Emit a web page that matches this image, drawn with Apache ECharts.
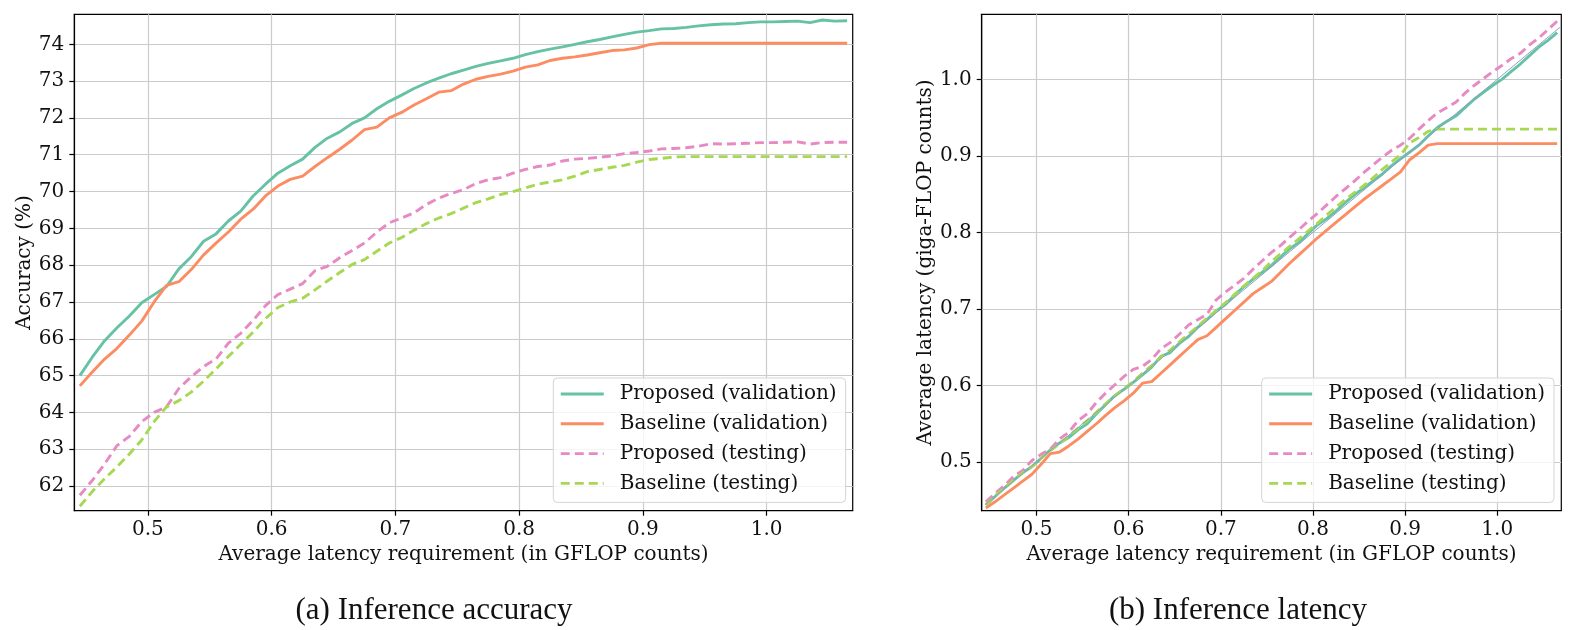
<!DOCTYPE html>
<html>
<head>
<meta charset="utf-8">
<script src="https://cdn.jsdelivr.net/npm/echarts@6/dist/echarts.min.js"></script>
<style>
html,body{margin:0;padding:0;background:#fff;}
#chart{width:1578px;height:630px;}
</style>
</head>
<body>
<div id="chart"></div>
<script>
// ---------------- DATA ----------------
const X = [0.445,0.455,0.465,0.475,0.485,0.495,0.505,0.515,0.525,0.535,0.545,0.555,0.565,0.575,0.585,0.595,0.605,0.615,0.625,0.635,0.645,0.655,0.665,0.675,0.685,0.695,0.705,0.715,0.725,0.735,0.745,0.755,0.765,0.775,0.785,0.795,0.805,0.815,0.825,0.835,0.845,0.855,0.865,0.875,0.885,0.895,0.905,0.915,0.925,0.935,0.945,0.955,0.965,0.975,0.985,0.995,1.005,1.015,1.025,1.035,1.045,1.055,1.065];

const accProposedVal = [65.0,65.5,65.95,66.3,66.62,66.98,67.2,67.42,67.9,68.23,68.65,68.85,69.2,69.47,69.88,70.2,70.5,70.7,70.88,71.2,71.45,71.62,71.85,72.0,72.25,72.45,72.62,72.8,72.95,73.08,73.2,73.3,73.4,73.48,73.55,73.62,73.72,73.8,73.87,73.93,74.0,74.07,74.13,74.2,74.27,74.33,74.37,74.42,74.43,74.46,74.5,74.53,74.55,74.56,74.59,74.61,74.61,74.62,74.63,74.59,74.66,74.63,74.64];
const accBaselineVal = [64.72,65.1,65.45,65.74,66.1,66.48,67.0,67.45,67.55,67.88,68.28,68.6,68.9,69.25,69.52,69.88,70.15,70.33,70.42,70.68,70.92,71.15,71.4,71.68,71.75,72.0,72.15,72.35,72.52,72.7,72.74,72.92,73.05,73.13,73.19,73.27,73.38,73.44,73.56,73.62,73.66,73.71,73.77,73.83,73.85,73.9,73.99,74.03,74.03,74.03,74.03,74.03,74.03,74.03,74.03,74.03,74.03,74.03,74.03,74.03,74.03,74.03,74.03];
const accProposedTest = [61.75,62.15,62.6,63.1,63.35,63.75,64.0,64.15,64.65,64.97,65.25,65.45,65.88,66.15,66.5,66.9,67.2,67.35,67.5,67.85,67.97,68.2,68.4,68.6,68.9,69.15,69.28,69.42,69.65,69.82,69.95,70.05,70.22,70.32,70.38,70.5,70.6,70.68,70.72,70.83,70.88,70.9,70.93,70.97,71.03,71.06,71.1,71.16,71.17,71.19,71.23,71.3,71.29,71.3,71.31,71.33,71.33,71.34,71.35,71.29,71.33,71.34,71.34];
const accBaselineTest = [61.45,61.85,62.2,62.52,62.87,63.25,63.75,64.15,64.32,64.55,64.85,65.18,65.52,65.85,66.18,66.55,66.85,67.0,67.1,67.33,67.57,67.8,68.02,68.15,68.38,68.6,68.75,68.95,69.13,69.28,69.4,69.55,69.7,69.8,69.92,70.0,70.1,70.2,70.26,70.32,70.42,70.54,70.6,70.66,70.71,70.8,70.87,70.9,70.94,70.95,70.95,70.95,70.95,70.95,70.95,70.95,70.95,70.95,70.95,70.95,70.95,70.95,70.95];

const latProposedVal = [0.444,0.455,0.466,0.476,0.486,0.494,0.505,0.516,0.525,0.532,0.542,0.55,0.563,0.575,0.587,0.595,0.604,0.614,0.624,0.638,0.643,0.655,0.664,0.676,0.686,0.697,0.706,0.718,0.729,0.739,0.748,0.757,0.768,0.779,0.787,0.799,0.81,0.818,0.828,0.839,0.849,0.858,0.867,0.876,0.887,0.896,0.905,0.914,0.926,0.937,0.945,0.952,0.963,0.974,0.983,0.992,1.0,1.01,1.02,1.031,1.042,1.051,1.061];
const latBaselineVal = [0.44,0.448,0.457,0.466,0.475,0.484,0.497,0.511,0.513,0.521,0.53,0.54,0.55,0.561,0.571,0.58,0.59,0.603,0.605,0.616,0.627,0.638,0.649,0.66,0.665,0.676,0.687,0.698,0.709,0.72,0.728,0.736,0.748,0.76,0.771,0.782,0.793,0.803,0.813,0.823,0.833,0.843,0.852,0.861,0.87,0.879,0.895,0.904,0.914,0.916,0.916,0.916,0.916,0.916,0.916,0.916,0.916,0.916,0.916,0.916,0.916,0.916,0.916];
const latProposedTest = [0.448,0.459,0.469,0.481,0.489,0.502,0.51,0.517,0.53,0.539,0.554,0.563,0.578,0.59,0.601,0.612,0.621,0.625,0.634,0.648,0.656,0.667,0.679,0.686,0.693,0.712,0.722,0.731,0.74,0.752,0.763,0.774,0.783,0.794,0.804,0.815,0.825,0.836,0.847,0.857,0.867,0.878,0.888,0.898,0.907,0.914,0.923,0.935,0.946,0.956,0.963,0.970,0.982,0.992,1.001,1.01,1.018,1.027,1.034,1.045,1.054,1.065,1.076];
const latBaselineTest = [0.444,0.456,0.466,0.476,0.486,0.494,0.505,0.515,0.524,0.534,0.544,0.554,0.565,0.576,0.586,0.596,0.605,0.616,0.626,0.637,0.646,0.657,0.667,0.677,0.688,0.698,0.708,0.719,0.73,0.74,0.75,0.762,0.772,0.782,0.792,0.802,0.812,0.823,0.833,0.843,0.852,0.861,0.871,0.882,0.892,0.901,0.917,0.924,0.932,0.935,0.935,0.935,0.935,0.935,0.935,0.935,0.935,0.935,0.935,0.935,0.935,0.935,0.935];

const diagonalX = [0.444, 1.068];

const seriesNames = ['Proposed (validation)','Baseline (validation)','Proposed (testing)','Baseline (testing)'];
const xTicks = [0.5,0.6,0.7,0.8,0.9,1.0];
const accTicks = [62,63,64,65,66,67,68,69,70,71,72,73,74];
const latTicks = [0.5,0.6,0.7,0.8,0.9,1.0];
const xName = 'Average latency requirement (in GFLOP counts)';
const accName = 'Accuracy (%)';
const latName = 'Average latency (giga-FLOP counts)';
const captions = ['(a) Inference accuracy','(b) Inference latency'];

// ---------------- STYLE ----------------
const COLORS = ['#66c2a5','#fc8d62','#e78ac3','#a6d854'];
const DIAG_COLOR = '#8da0cb';
const FONT = 'DejaVu Serif';
const FS = 20;
const TXT = '#111';
const LW = 2.9;

function zip(xs, ys){ return xs.map((x,i)=>[x, ys[i]]); }

function mkX(gridIndex){
  return {
    type:'value', gridIndex, min:0.4405, max:1.0695,
    name:xName, nameLocation:'middle', nameGap:33,
    nameTextStyle:{fontFamily:FONT,fontSize:FS,color:TXT},
    axisLine:{show:true,onZero:false,lineStyle:{color:'#000',width:1.2}},
    axisTick:{show:true,length:5,customValues:xTicks,lineStyle:{color:'#000',width:1.2}},
    axisLabel:{customValues:xTicks,margin:9,fontFamily:FONT,fontSize:FS,color:TXT,formatter:v=>v.toFixed(1)},
    splitLine:{show:true,lineStyle:{color:'#cbcbcb',width:1.2}}
  };
}
function mkY(gridIndex,min,max,ticks,name,gap,fmt){
  return {
    type:'value', gridIndex, min, max,
    name, nameLocation:'middle', nameGap:gap,
    nameTextStyle:{fontFamily:FONT,fontSize:FS,color:TXT},
    axisLine:{show:true,onZero:false,lineStyle:{color:'#000',width:1.2}},
    axisTick:{show:true,length:5,customValues:ticks,lineStyle:{color:'#000',width:1.2}},
    axisLabel:{customValues:ticks,margin:10,fontFamily:FONT,fontSize:FS,color:TXT,formatter:fmt},
    splitLine:{show:true,lineStyle:{color:'#cbcbcb',width:1.2}}
  };
}
function mkLine(name, data, idx, gi, dashed){
  return {
    type:'line', name, xAxisIndex:gi, yAxisIndex:gi,
    data, symbol:'none', showSymbol:false, animation:false, silent:true,
    z: 3,
    lineStyle:{color:COLORS[idx], width:LW, type: dashed ? [9,5] : 'solid'},
    itemStyle:{color:COLORS[idx]}
  };
}
function mkLegend(left){
  return {
    left, top:378, orient:'vertical',
    data: seriesNames,
    itemWidth:43, itemHeight:14, itemGap:9.8,
    padding:[6,9,9,6],
    backgroundColor:'rgba(255,255,255,0.8)',
    borderColor:'#d5d5d5', borderWidth:1, borderRadius:4,
    itemStyle:{opacity:0},
    lineStyle:{width:LW},
    selectedMode:false,
    textStyle:{fontFamily:FONT,fontSize:FS,color:TXT,padding:[0,0,0,11]}
  };
}

const chart = echarts.init(document.getElementById('chart'), null, {renderer:'canvas'});
chart.setOption({
  animation:false,
  backgroundColor:'#fff',
  grid:[
    {left:74.3, top:14.3, width:778.4, height:496.4, show:true, borderColor:'#000', borderWidth:1.2, backgroundColor:'transparent'},
    {left:981.7, top:14.3, width:579.6, height:496.4, show:true, borderColor:'#000', borderWidth:1.2, backgroundColor:'transparent'}
  ],
  xAxis:[mkX(0), mkX(1)],
  yAxis:[
    mkY(0,61.33,74.815,accTicks,accName,39,v=>String(Math.round(v))),
    mkY(1,0.4364,1.085,latTicks,latName,39,v=>v.toFixed(1))
  ],
  legend:[mkLegend(553.3), mkLegend(1261.7)],
  series:[
    mkLine(seriesNames[0], zip(X,accProposedVal), 0, 0, false),
    mkLine(seriesNames[1], zip(X,accBaselineVal), 1, 0, false),
    mkLine(seriesNames[2], zip(X,accProposedTest), 2, 0, true),
    mkLine(seriesNames[3], zip(X,accBaselineTest), 3, 0, true),
    mkLine(seriesNames[0], zip(X,latProposedVal), 0, 1, false),
    mkLine(seriesNames[1], zip(X,latBaselineVal), 1, 1, false),
    mkLine(seriesNames[2], zip(X,latProposedTest), 2, 1, true),
    mkLine(seriesNames[3], zip(X,latBaselineTest), 3, 1, true),
    {type:'line', name:'y = x', xAxisIndex:1, yAxisIndex:1, data: zip(diagonalX, diagonalX),
     symbol:'none', animation:false, silent:true, z:4,
     lineStyle:{color:DIAG_COLOR, width:1}}
  ],
  graphic:[
    {type:'text', x:434, y:611, style:{text:captions[0], font:'31px "Liberation Serif"', fill:'#111', textAlign:'center', textVerticalAlign:'middle'}},
    {type:'text', x:1238, y:611, style:{text:captions[1], font:'31px "Liberation Serif"', fill:'#111', textAlign:'center', textVerticalAlign:'middle'}}
  ]
});
</script>
</body>
</html>
